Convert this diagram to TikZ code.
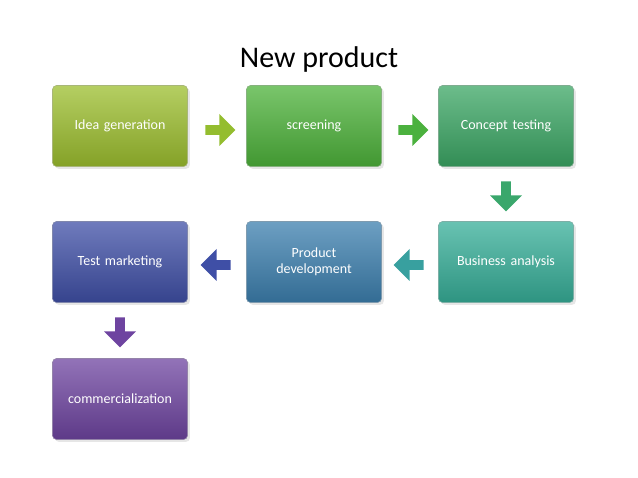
\documentclass[tikz,border=0pt]{standalone}
\usepackage{fontspec}
\setmainfont{Carlito}
\usetikzlibrary{shapes.arrows}
\tikzset{
 box/.style={draw=#1!70!black!60, line width=0.6pt, rounded corners=4pt, top color=#1!75!white, bottom color=#1!85!black, minimum width=135pt, minimum height=81pt, text=white, font=\fontsize{14}{16}\selectfont, align=center, text width=125pt, drop shadow={opacity=0.2}},
 blk/.style={single arrow, draw=none, fill=#1, minimum width=32pt, minimum height=30pt, single arrow head extend=5pt, inner sep=2pt},
}
\usetikzlibrary{shadows}
\definecolor{c1}{HTML}{9CBE2E}
\definecolor{c2}{HTML}{4DB23A}
\definecolor{c3}{HTML}{3BA664}
\definecolor{c4}{HTML}{36AE98}
\definecolor{c5}{HTML}{3C7FAE}
\definecolor{c6}{HTML}{3F4FA6}
\definecolor{c7}{HTML}{6E44A0}
\begin{document}
\begin{tikzpicture}[x=1pt,y=-1pt]
\useasboundingbox (0,0) rectangle (638,478);
\node[font=\fontsize{30}{34}\selectfont] (t) at (319,60) {New product};
\node[box=c1] (a) at (120,126) {Idea generation};
\node[box=c2] (b) at (314,126) {screening};
\node[box=c3] (c) at (506,126) {Concept testing};
\node[box=c4] (d) at (506,262) {Business analysis};
\node[box=c5] (e) at (314,262) {Product\\development};
\node[box=c6] (f) at (120,262) {Test marketing};
\node[box=c7] (g) at (120,399) {commercialization};
\node[blk=c1!90!c2] (ab) at (218,130) {};
\node[blk=c2!90!c3] (bc) at (411,130) {};
\node[blk=c3!85!c4, rotate=-90] (cd) at (506,194) {};
\node[blk=c4!70!c5, rotate=180] (de) at (411,265) {};
\node[blk=c6, rotate=180] (ef) at (218,265) {};
\node[blk=c7, rotate=-90] (fg) at (120,330) {};
\end{tikzpicture}
\end{document}
